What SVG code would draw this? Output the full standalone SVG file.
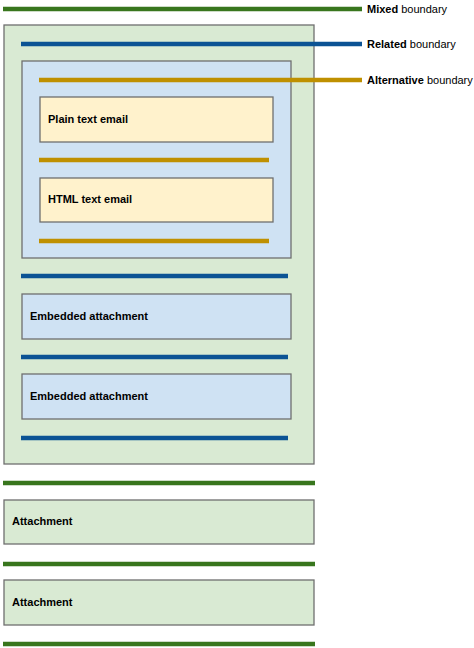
<svg xmlns="http://www.w3.org/2000/svg" width="474" height="648" viewBox="0 0 474 648">
<style>
.box{stroke:#6f6f6f;stroke-width:1.3}
.g{fill:#d9ead3}.b{fill:#cfe2f3}.y{fill:#fff2cc}
.lg{stroke:#38761d;stroke-width:4.5}
.lb{stroke:#0b5394;stroke-width:4.5}
.la{stroke:#bf9000;stroke-width:4.5}
text{font-family:"Liberation Sans",Arial,sans-serif;font-size:11px;fill:#000}
.t{font-weight:bold}
</style>
<rect width="474" height="648" fill="#fff"/>
<g id="mixed-container"><rect class="box g" x="4" y="25" width="310" height="439"/></g>
<g id="related-container"><rect class="box b" x="22" y="61" width="269" height="197"/></g>
<g id="plain-text-email"><rect class="box y" x="40" y="97" width="233" height="45"/><text class="t" x="48" y="123">Plain text email</text></g>
<g id="html-text-email"><rect class="box y" x="40" y="178" width="233" height="44"/><text class="t" x="48" y="203">HTML text email</text></g>
<g id="embedded-attachment-1"><rect class="box b" x="22" y="294" width="269" height="45"/><text class="t" x="30" y="320">Embedded attachment</text></g>
<g id="embedded-attachment-2"><rect class="box b" x="22" y="374" width="269" height="45"/><text class="t" x="30" y="400">Embedded attachment</text></g>
<g id="attachment-1"><rect class="box g" x="4" y="500" width="310" height="44"/><text class="t" x="12" y="525">Attachment</text></g>
<g id="attachment-2"><rect class="box g" x="4" y="580" width="310" height="45"/><text class="t" x="12" y="606">Attachment</text></g>
<g id="connectors">
<line class="lg" x1="3" y1="9" x2="362" y2="9"/>
<line class="lb" x1="21" y1="44" x2="362" y2="44"/>
<line class="la" x1="39" y1="80" x2="362" y2="80"/>
<line class="la" x1="39" y1="160" x2="269" y2="160"/>
<line class="la" x1="39" y1="241" x2="269" y2="241"/>
<line class="lb" x1="21" y1="276" x2="288" y2="276"/>
<line class="lb" x1="21" y1="357" x2="288" y2="357"/>
<line class="lb" x1="21" y1="438" x2="288" y2="438"/>
<line class="lg" x1="3" y1="483" x2="315" y2="483"/>
<line class="lg" x1="3" y1="564" x2="315" y2="564"/>
<line class="lg" x1="3" y1="644" x2="315" y2="644"/>
</g>
<g id="legend">
<text x="367" y="13"><tspan class="t">Mixed</tspan> boundary</text>
<text x="367" y="48"><tspan class="t">Related</tspan> boundary</text>
<text x="367" y="84"><tspan class="t">Alternative</tspan> boundary</text>
</g>
</svg>
